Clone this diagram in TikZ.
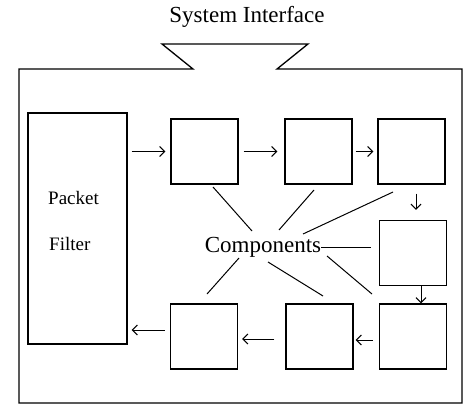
\documentclass[tikz,border=0pt]{standalone}
\usepackage{fontspec}
\setmainfont{Liberation Serif}
\usepackage{tikz}
\usetikzlibrary{positioning,arrows.meta}

\begin{document}
\begin{tikzpicture}[x=1pt, y=-1pt,
  box/.style={draw, line width=1.4pt, minimum width=67pt, minimum height=65pt, inner sep=0pt},
  lbl/.style={font=\fontsize{23}{28}\selectfont, inner sep=0pt, anchor=base},
  pflbl/.style={font=\fontsize{19}{23}\selectfont, inner sep=0pt, anchor=base west},
  arrow/.style={-{Straight Barb[length=5pt, width=10pt]}, line width=1pt},
  spoke/.style={line width=1pt}
]
  \useasboundingbox (0,0) rectangle (474,415);

  % Rahmen mit Schnittstelle oben
  \draw[line width=1.3pt] (193,69) -- (19,69) -- (19,403) -- (462,403) -- (462,69)
    -- (277,69) -- (308,44) -- (162,44) -- cycle;
  \node[lbl] (sys) at (247,22.7) {System Interface};

  % Paketfilter
  \node[draw, line width=1.4pt, minimum width=99pt, minimum height=231pt, inner sep=0pt] (pf) at (77.5,228.5) {};
  \node[pflbl] (pfa) at (48,204) {Packet};
  \node[pflbl] (pfb) at (49,250) {Filter};

  % Komponenten
  \node[box] (b1) at (204.5,151.5) {};
  \node[box] (b2) at (318.5,151.5) {};
  \node[box] (b3) at (411.5,151.5) {};
  \node[box] (b4) at (413,253) {};
  \node[box] (b5) at (413,336.5) {};
  \node[box] (b6) at (319.5,336.5) {};
  \node[box] (b7) at (204,336.5) {};

  % Pfeile
  \coordinate (b7w) at ([yshift=6.5pt]b7.west);
  \draw[arrow, shorten <=4pt, shorten >=5pt] (pf.east |- b1) -- (b1.west);
  \draw[arrow, shorten <=5pt, shorten >=7pt] (b1) -- (b2);
  \draw[arrow, shorten <=3pt, shorten >=4pt] (b2) -- (b3);
  \draw[arrow, shorten <=9pt, shorten >=10pt] ([xshift=4.5pt]b3.south) -- ([xshift=4.5pt]b3.south |- b4.north);
  \draw[arrow] ([xshift=8pt]b4.south) -- ([xshift=8pt]b4.south |- b5.north);
  \draw[arrow, shorten <=6pt, shorten >=2pt] ([yshift=-3.5pt]b5.west) -- ([yshift=-3.5pt]b6.east);
  \draw[arrow, shorten <=11pt, shorten >=4pt] ([yshift=-2.5pt]b6.west) -- ([yshift=-2.5pt]b7.east);
  \draw[arrow, shorten <=5pt, shorten >=4pt] (b7w) -- (pf.east |- b7w);

  % Beschriftung in der Mitte
  \node[lbl] (comp) at (263,252) {Components};
  \coordinate (s1) at (213,187);
  \coordinate (s2) at (314,190);
  \coordinate (s3) at (393,192);
  \coordinate (s4) at (371,247);
  \coordinate (s5) at (372,294);
  \coordinate (s6) at (323,296);
  \coordinate (s7) at (207,294);
  \draw[spoke] ([shift={(-11pt,21pt)}]comp.base) -- (s1);
  \draw[spoke] ([shift={(16pt,22pt)}]comp.base) -- (s2);
  \draw[spoke] ([shift={(40pt,18pt)}]comp.base) -- (s3);
  \draw[spoke] (comp.east |- s4) -- (s4);
  \draw[spoke] ([shift={(64pt,-4pt)}]comp.base) -- (s5);
  \draw[spoke] ([shift={(5pt,-10pt)}]comp.base) -- (s6);
  \draw[spoke] ([shift={(-24pt,-6pt)}]comp.base) -- (s7);
\end{tikzpicture}
\end{document}
